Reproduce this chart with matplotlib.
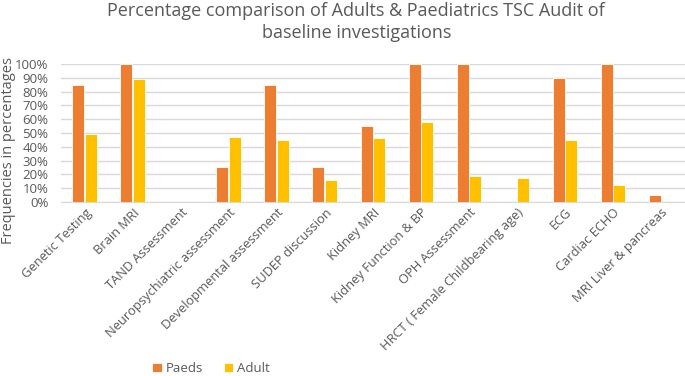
import matplotlib
matplotlib.use('Agg')
import matplotlib.pyplot as plt
import numpy as np

# Dane do wykresu
categories = [
    'Genetic Testing', 'Brain MRI', 'TAND Assessment', 'Neuropsychiatric assessment',
    'Developmental assessment', 'SUDEP discussion', 'Kidney MRI', 'Kidney Function & BP',
    'OPH Assessment', 'HRCT ( Female Childbearing age)', 'ECG', 'Cardiac ECHO',
    'MRI Liver & pancreas'
]
paeds = [0.85, 1.00, 0.0, 0.25, 0.85, 0.25, 0.55, 1.00, 1.00, 0.0, 0.90, 1.00, 0.05]
adult = [0.49, 0.89, 0.0, 0.47, 0.45, 0.16, 0.46, 0.58, 0.19, 0.17, 0.45, 0.12, 0.0]
y_ticks = [i / 10 for i in range(11)]

plt.rcParams['font.family'] = ['Open Sans', 'DejaVu Sans']
gray = '#595959'

fig = plt.figure(figsize=(6.85, 3.76), dpi=100)
ax = fig.add_axes([0.089, 0.463, 0.911, 0.367])

x = np.arange(len(categories))
w = 0.25
ax.bar(x - 0.135, paeds, w, color='#ED7D31', edgecolor='white', linewidth=0.6, label='Paeds', zorder=3)
ax.bar(x + 0.135, adult, w, color='#FFC000', edgecolor='white', linewidth=0.6, label='Adult', zorder=3)

ax.set_xlim(-0.5, len(categories) - 0.5)
ax.set_ylim(0, 1.0)
ax.set_yticks(y_ticks)
ax.set_yticklabels([f'{int(round(t * 100))}%' for t in y_ticks], fontsize=9.5, color=gray)
ax.yaxis.grid(True, color='#D9D9D9', linewidth=1)
ax.set_axisbelow(True)
ax.tick_params(axis='y', length=0, pad=9)
ax.tick_params(axis='x', length=0, pad=3)

ax.set_xticks(x)
ax.set_xticklabels(categories, rotation=45, ha='right', rotation_mode='anchor',
                   fontsize=9.3, color=gray)

for s in ['top', 'right', 'left']:
    ax.spines[s].set_visible(False)
ax.spines['bottom'].set_color('#D9D9D9')

# Etykieta osi Y (przesunieta w dol jak w oryginale)
fig.text(0.013, 0.6, 'Frequencies in percentages', rotation=90, ha='center', va='center',
         fontsize=10.5, color=gray)
fig.suptitle('Percentage comparison of Adults & Paediatrics TSC Audit of\nbaseline investigations',
             fontsize=13, color=gray, y=0.995, x=0.52, linespacing=1.3)

fig.legend(loc='lower left', bbox_to_anchor=(0.205, -0.03), ncol=2, frameon=False,
           fontsize=9.5, labelcolor=gray, handlelength=0.7, handleheight=0.7,
           columnspacing=1.6, handletextpad=0.3)

fig.savefig('out.png', dpi=100)
